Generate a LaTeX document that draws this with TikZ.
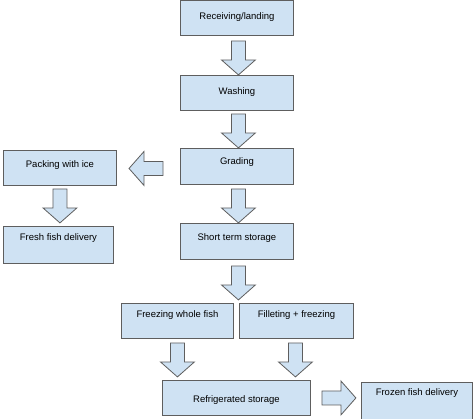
\documentclass[tikz,border=0pt]{standalone}
\usepackage{fontspec}
\setmainfont{Liberation Sans}
\usetikzlibrary{calc}
\definecolor{boxblue}{HTML}{CFE2F3}
\definecolor{edgegray}{HTML}{5E5E5E}
\tikzset{
  box/.style={draw=edgegray, fill=boxblue, line width=0.9pt, inner sep=0pt,
    anchor=north west, font=\fontsize{9.5}{11}\selectfont, align=center},
  barrow/.pic={
    \draw[edgegray, fill=boxblue, line width=0.8pt, line join=miter]
      (-7,0) -- (7,0) -- (7,19) -- (17,19) -- (0,34) -- (-17,19) -- (-7,19) -- cycle;
  }
}
\newcommand\mybox[9]{%
  \node[box, minimum width={#4-#2}, minimum height={#5-#3},
        text height=#6pt, text depth=#7pt] (#1) at (#2,#3) {#8#9};}
\begin{document}
\begin{tikzpicture}[x=1pt,y=-1pt]
\useasboundingbox (0,0) rectangle (474,418);
\mybox{recv}{180}{0}{293}{35}{7}{3.4}{Receiving/landing}{}
\mybox{wash}{180}{75}{293}{110}{7}{3.4}{Washing}{}
\mybox{grad}{180}{148}{293}{184}{7}{10.4}{Grading}{}
\mybox{pack}{3}{150}{116}{185}{7}{7.4}{Packing with ice}{}
\mybox{fresh}{3}{226}{113}{263}{7}{15.4}{Fresh fish delivery}{}
\mybox{short}{180}{223}{293}{259}{7}{8.4}{Short term storage}{}
\mybox{whole}{121}{303}{233}{338}{7}{13.4}{Freezing whole fish}{}
\mybox{fillet}{239}{303}{353}{338}{7}{13.4}{Filleting + freezing}{}
\mybox{refrig}{162}{380}{310}{415}{12}{2.4}{Refrigerated storage}{}
\mybox{frozen}{361}{382}{472}{425}{7}{23.4}{Frozen fish delivery}{}
\pic at ($(recv.south)+(1.5,5)$) {barrow};
\pic at ($(wash.south)+(1.5,3)$) {barrow};
\pic[rotate=-90] at ($(grad.west)+(-17,2)$) {barrow};
\pic at ($(pack.south)+(0,3)$) {barrow};
\pic at ($(grad.south)+(1.5,4)$) {barrow};
\pic at ($(short.south)+(1.5,6)$) {barrow};
\pic at ($(whole.south)+(0,4)$) {barrow};
\pic at ($(fillet.south)+(-1,4)$) {barrow};
\pic[rotate=90] at ($(refrig.east)+(11,0)$) {barrow};
\end{tikzpicture}
\end{document}
